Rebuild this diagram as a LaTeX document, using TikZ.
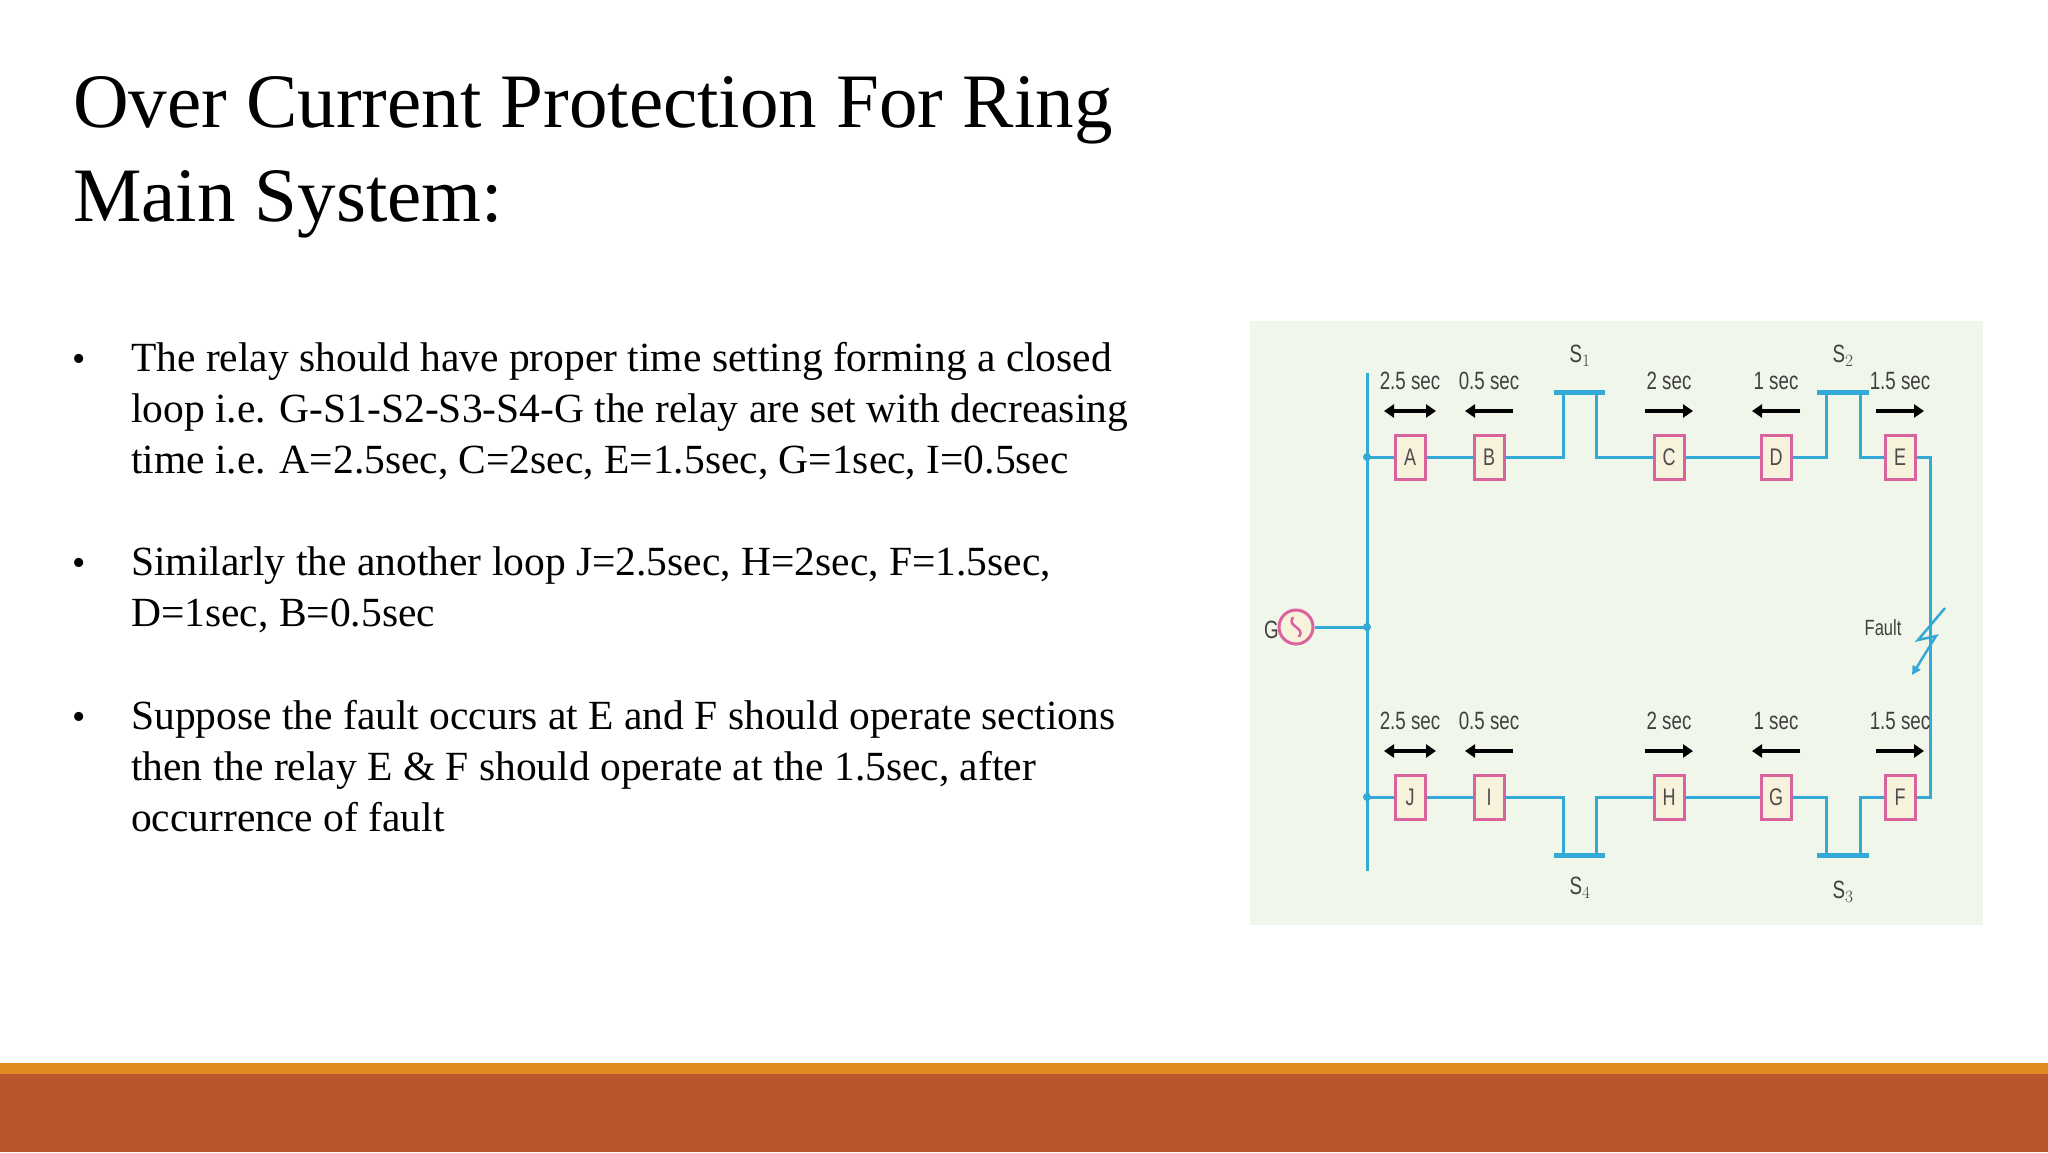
\documentclass[tikz,border=0pt]{standalone}
\usepackage{fontspec}
\setmainfont{Liberation Serif}
\newfontfamily\narrow[FakeStretch=0.75]{Liberation Sans}
\usetikzlibrary{arrows.meta}
\definecolor{wire}{HTML}{33A9D6}
\definecolor{relay}{HTML}{D9639C}
\definecolor{relayfill}{HTML}{F6F2DC}
\definecolor{panel}{HTML}{F1F6EA}
\definecolor{thinbar}{HTML}{E08A22}
\definecolor{bigbar}{HTML}{BA562C}
\begin{document}
\begin{tikzpicture}[x=1pt,y=-1pt,
  relaybox/.style={draw=relay,line width=3pt,fill=relayfill,minimum width=30pt,minimum height=44pt,inner sep=0pt,font=\narrow\fontsize{24}{24}\selectfont,text=black!70},
  wireline/.style={wire,line width=3pt},
  swbar/.style={wire,line width=5pt},
  tlabel/.style={font=\narrow\fontsize{25}{25}\selectfont,text=black!75,inner sep=0pt},
  tarrow/.style={line width=3.5pt,-{Triangle[length=10pt,width=13pt]}},
  body/.style={anchor=base west,inner sep=0pt,font=\fontsize{41.5}{41.5}\selectfont},
  bul/.style={anchor=base west,inner sep=0pt,font=\fontsize{38}{38}\selectfont}]
\useasboundingbox (0,0) rectangle (2048,1152);
\fill[white] (0,0) rectangle (2048,1152);
% title
\node[anchor=base west,inner sep=0pt,font=\fontsize{77}{77}\selectfont] (t1) at (73,127) {Over Current Protection For Ring};
\node[anchor=base west,inner sep=0pt,font=\fontsize{77}{77}\selectfont] (t2) at (73,221) {Main System:};
% bullets
\node[bul] (b1) at (72,371) {\textbullet};
\node[body] (l1) at (131,371) {The relay should have proper time setting forming a closed};
\node[body] (l2) at (131,422) {loop i.e. G-S1-S2-S3-S4-G the relay are set with decreasing};
\node[body] (l3) at (131,473) {time i.e. A=2.5sec, C=2sec, E=1.5sec, G=1sec, I=0.5sec};
\node[bul] (b2) at (72,575) {\textbullet};
\node[body] (l4) at (131,575) {Similarly the another loop J=2.5sec, H=2sec, F=1.5sec,};
\node[body] (l5) at (131,626) {D=1sec, B=0.5sec};
\node[bul] (b3) at (72,729) {\textbullet};
\node[body] (l6) at (131,729) {Suppose the fault occurs at E and F should operate sections};
\node[body] (l7) at (131,780) {then the relay E \& F should operate at the 1.5sec, after};
\node[body] (l8) at (131,831) {occurrence of fault};
% bottom bars
\fill[thinbar] (0,1063) rectangle (2048,1074);
\fill[bigbar] (0,1074) rectangle (2048,1152);
% diagram panel
\fill[panel] (1250,321) rectangle (1983,925);
% buses
\coordinate (vt) at (1367,373);
\coordinate (vb) at (1367,871);
\coordinate (jt) at (1367,457);
\coordinate (jb) at (1367,797);
\coordinate (jg) at (1367,627);
\draw[wireline] (vt) -- (vb);
\fill[wire] (jt) circle (4pt) (jb) circle (4pt) (jg) circle (4pt);
% generator
\node[draw=relay,line width=3pt,circle,minimum size=34pt,inner sep=0pt,fill=relayfill] (gen) at (1296,627) {};
\draw[relay,line width=2.5pt] ([xshift=-3pt,yshift=10pt]gen.center) .. controls ([xshift=-10pt,yshift=0pt]gen.center) and ([xshift=10pt,yshift=0pt]gen.center) .. ([xshift=3pt,yshift=-10pt]gen.center);
\node[tlabel,anchor=east] (glab) at (1279,630) {G};
\draw[wireline] (gen) -- (jg);
% rows
\foreach \n/\x in {A/1410,B/1489,C/1669,D/1776,E/1900}{\node[relaybox] (\n) at (\x,457) {\n};}
\foreach \n/\x in {J/1410,I/1489,H/1669,G/1776,F/1900}{\node[relaybox] (\n) at (\x,797) {\n};}
\coordinate (s1a) at (1563,457); \coordinate (s1b) at (1563,392); \coordinate (s1c) at (1596,392); \coordinate (s1d) at (1596,457);
\coordinate (s2a) at (1826,457); \coordinate (s2b) at (1826,392); \coordinate (s2c) at (1860,392); \coordinate (s2d) at (1860,457);
\coordinate (s4a) at (1563,797); \coordinate (s4b) at (1563,855); \coordinate (s4c) at (1596,855); \coordinate (s4d) at (1596,797);
\coordinate (s3a) at (1826,797); \coordinate (s3b) at (1826,855); \coordinate (s3c) at (1860,855); \coordinate (s3d) at (1860,797);
\coordinate (rt) at (1930,457); \coordinate (rb) at (1930,797);
\draw[wireline] (jt) -- (A) -- (B) -- (s1a) -- (s1b) (s1c) -- (s1d) -- (C) -- (D) -- (s2a) -- (s2b) (s2c) -- (s2d) -- (E) -- (rt) -- (rb) -- (F) -- (s3d) -- (s3c) (s3b) -- (s3a) -- (G) -- (H) -- (s4d) -- (s4c) (s4b) -- (s4a) -- (I) -- (J) -- (jb);
\draw[swbar] ([xshift=-9pt]s1b) -- ([xshift=9pt]s1c);
\draw[swbar] ([xshift=-9pt]s2b) -- ([xshift=9pt]s2c);
\draw[swbar] ([xshift=-9pt]s4b) -- ([xshift=9pt]s4c);
\draw[swbar] ([xshift=-9pt]s3b) -- ([xshift=9pt]s3c);
\node[tlabel] (S1) at (1580,356) {S$_1$};
\node[tlabel] (S2) at (1843,356) {S$_2$};
\node[tlabel] (S4) at (1580,888) {S$_4$};
\node[tlabel] (S3) at (1843,892) {S$_3$};
% time labels and arrows
\foreach \r/\t in {A/2.5 sec,B/0.5 sec,C/2 sec,D/1 sec,E/1.5 sec,J/2.5 sec,I/0.5 sec,H/2 sec,G/1 sec,F/1.5 sec}{
  \node[tlabel] at ([yshift=76pt]\r.center) {\t};}
\foreach \r in {A,J}{\draw[line width=3.5pt,{Triangle[length=10pt,width=13pt]}-{Triangle[length=10pt,width=13pt]}] ([xshift=-26pt,yshift=46pt]\r.center) -- ([xshift=26pt,yshift=46pt]\r.center);}
\foreach \r in {B,D,I,G}{\draw[tarrow] ([xshift=24pt,yshift=46pt]\r.center) -- ([xshift=-24pt,yshift=46pt]\r.center);}
\foreach \r in {C,E,H,F}{\draw[tarrow] ([xshift=-24pt,yshift=46pt]\r.center) -- ([xshift=24pt,yshift=46pt]\r.center);}
% fault
\node[tlabel,font=\narrow\fontsize{22}{22}\selectfont] (fault) at (1883,628) {Fault};
\coordinate (f1) at (1945,608);
\coordinate (f2) at (1918,640);
\coordinate (f3) at (1936,636);
\coordinate (f4) at (1912,675);
\draw[wire,line width=2.5pt,-{Triangle[length=9pt,width=9pt]}] (f1) -- (f2) -- (f3) -- (f4);
\end{tikzpicture}
\end{document}
